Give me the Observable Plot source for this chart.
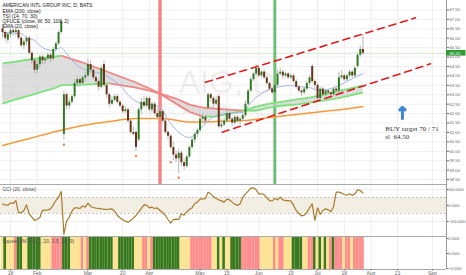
<!DOCTYPE html>
<html><head><meta charset="utf-8">
<script src="https://cdn.jsdelivr.net/npm/d3@7"></script>
<script src="https://cdn.jsdelivr.net/npm/@observablehq/plot@0.6"></script>
<style>
html,body{margin:0;padding:0;background:#fff;overflow:hidden;}
#chart svg{display:block;}
</style></head><body><div id="chart"></div>
<script>
// ---- candles (bar index 0..135, daily) ----
const opens = [66.5,66.3,65.9,66.2,66.4,66.3,66.4,66.0,65.6,65.8,
66.0,65.2,64.8,64.3,64.6,65.0,64.8,64.9,65.1,64.9,
65.4,65.7,66.3,60.9,63.0,62.4,62.6,62.9,63.6,63.8,
63.6,63.9,64.0,64.6,64.3,63.9,63.7,63.4,64.6,63.5,
63.0,62.5,62.7,62.9,62.6,62.4,62.1,62.2,61.6,61.0,
61.0,60.6,62.2,62.6,62.4,62.8,62.2,62.5,62.0,61.8,
62.1,61.6,61.0,60.8,60.2,59.8,59.6,59.9,59.4,59.2,
59.7,60.2,60.6,60.9,61.1,61.7,61.8,62.3,63.0,62.8,
62.5,62.9,61.3,61.4,61.6,62.0,61.7,61.5,61.8,61.6,
61.7,61.9,62.5,63.2,63.8,64.1,64.4,64.0,64.2,63.9,
63.6,63.3,63.1,63.5,64.1,64.2,64.0,64.1,63.9,64.0,
63.7,63.4,63.2,63.1,63.3,63.6,64.5,63.7,63.5,62.8,
63.3,63.0,63.2,63.1,63.0,63.3,63.2,63.9,64.0,63.8,
64.0,64.2,64.0,64.5,65.1,65.4];
const highs = [66.7,66.4,66.3,66.5,66.6,66.5,66.5,66.1,65.9,66.1,
66.1,65.3,64.9,64.8,65.1,65.1,65.0,65.2,65.2,65.5,
65.8,66.4,67.0,63.2,63.1,62.8,63.0,63.8,64.0,63.9,
64.0,64.2,64.9,64.8,64.4,64.0,63.8,64.5,64.8,63.6,
63.1,62.9,63.0,63.0,62.7,62.5,62.4,62.3,61.7,61.3,
61.1,62.3,62.8,62.9,62.9,62.9,62.6,62.6,62.2,62.2,
62.2,61.7,61.1,60.9,60.5,60.0,60.1,60.0,59.6,59.8,
60.3,60.7,61.0,61.2,61.8,62.0,61.9,63.1,63.1,62.9,
62.9,63.0,61.7,61.8,62.2,62.1,61.8,61.9,61.9,61.8,
62.0,62.7,63.3,63.9,64.2,64.6,64.5,64.3,64.3,64.0,
63.7,63.4,63.6,64.3,64.4,64.3,64.2,64.2,64.1,64.1,
63.8,63.5,63.3,63.4,63.7,64.0,64.6,63.8,63.6,63.4,
63.4,63.3,63.3,63.2,63.4,63.4,64.2,64.3,64.1,64.1,
64.3,64.3,64.5,65.2,65.6,66.2];
const lows = [66.0,65.8,65.7,66.0,66.1,66.1,65.9,65.5,65.4,65.6,
65.1,64.6,64.1,64.1,64.4,64.6,64.6,64.8,64.7,64.8,
65.3,65.6,66.2,60.6,62.2,62.2,62.5,62.8,63.4,63.4,
63.5,63.7,63.9,64.1,63.8,63.5,63.2,63.3,63.4,62.8,
62.3,62.4,62.6,62.5,62.3,62.0,62.0,61.5,60.9,60.8,
60.0,60.5,62.0,62.3,62.3,62.1,62.0,61.9,61.7,61.7,
61.5,60.9,60.6,60.1,59.5,59.4,58.8,59.2,59.0,59.1,
59.6,60.1,60.4,60.7,61.0,61.5,61.4,62.2,62.6,62.3,
62.4,61.2,61.2,61.3,61.5,61.6,61.3,61.4,61.5,61.4,
61.6,61.8,62.4,63.1,63.7,64.0,63.9,63.9,63.8,63.5,
63.2,63.0,63.0,63.4,64.0,63.8,63.9,63.8,63.8,63.6,
63.3,63.1,62.9,63.0,63.2,63.5,63.6,63.3,62.6,62.7,
62.9,62.9,63.0,62.9,62.9,63.1,63.1,63.8,63.7,63.7,
63.9,63.9,63.9,64.4,65.0,65.1];
const closes = [66.3,66.0,66.2,66.4,66.3,66.4,66.0,65.6,65.8,66.0,
65.2,64.8,64.3,64.6,65.0,64.8,64.9,65.1,64.9,65.4,
65.7,66.3,66.9,63.0,62.4,62.6,62.9,63.6,63.8,63.6,
63.9,64.0,64.6,64.3,63.9,63.7,63.4,64.4,63.5,63.0,
62.5,62.7,62.9,62.6,62.4,62.1,62.2,61.6,61.0,60.9,
60.2,62.2,62.6,62.4,62.8,62.2,62.5,62.0,61.8,62.1,
61.6,61.0,60.8,60.2,59.8,59.6,59.9,59.4,59.2,59.7,
60.2,60.6,60.9,61.1,61.7,61.8,61.6,63.0,62.8,62.5,
62.7,61.3,61.4,61.6,62.0,61.7,61.5,61.8,61.6,61.7,
61.9,62.5,63.2,63.8,64.1,64.4,64.0,64.2,63.9,63.6,
63.3,63.1,63.5,64.1,64.2,64.0,64.1,63.9,64.0,63.7,
63.4,63.2,63.1,63.3,63.6,63.9,63.7,63.5,62.8,63.3,
63.0,63.2,63.1,63.0,63.3,63.2,63.9,64.0,63.8,64.0,
64.2,64.0,64.4,65.1,65.4,65.2];

// ---- overlays (values read at bar indexes) ----
const cloudIdx = [0,5,10,15,20,22,30,40,50,55,59,65,70,75,80,85,90,95,100,105,110,115,120,125,130,135];
const cloudA = [64.66,64.76,64.87,64.95,65.03,65.08,64.71,64.18,63.65,63.33,63.06,62.53,62.1,61.84,61.84,62.0,62.16,62.37,62.53,62.64,62.75,62.85,63.0,63.17,63.33,63.49];
const cloudB = [62.53,62.75,62.96,63.17,63.38,63.51,63.54,63.6,63.38,63.22,63.06,62.8,62.48,62.32,62.27,62.21,62.16,62.16,62.32,62.43,62.48,62.59,62.69,62.8,62.96,63.12];
const emaLongIdx = [0,10,20,30,40,50,60,70,80,90,100,110,120,130,135];
const emaLong = [60.31,60.68,61.05,61.37,61.58,61.74,61.74,61.55,61.58,61.63,61.79,61.95,62.11,62.27,62.37];
const emaShortIdx = [0,7,9,12,15,19,22,24,28,32,37,40,44,48,52,57,59,63,70,74,78,84,90,93,97,101,108,112,115,119,126,131,135];
const emaShort = [66.3,66.25,66.03,65.88,65.5,65.34,65.5,65.19,64.55,64.28,64.12,63.91,63.49,62.85,62.53,62.43,62.32,61.47,60.73,61.2,61.74,62.0,62.06,62.59,63.06,63.33,63.49,63.42,63.38,63.22,63.49,63.86,64.12];
const lowMarkIdx = [23,50,63,66];
const lowMarkPrice = [60.35,59.75,59.42,58.6];
const crossIdx = [59,102];
const crossPrice = [63.06,62.55];
const redSignal = 59, greenSignal = 102;
const channelUpperIdx = [76,154.7], channelUpperPrice = [63.66,67.08];
const channelLowerIdx = [82.3,160.3], channelLowerPrice = [61.01,64.64];

// ---- CCI (20, close), per bar ----
const cci = [17,8,4,33,25,62,-88,-88,-62,8,
-104,-146,-187,-171,-150,-62,-58,-54,-42,8,
62,104,175,-362,-196,-146,-71,-29,-29,-37,
-4,-21,29,-12,-25,-33,-37,-42,-46,-50,
-46,-42,-71,-125,-154,-179,-196,-208,-187,-158,
-125,-83,-37,8,4,-29,-21,-37,-29,-62,
-88,-125,-175,-221,-175,-171,-175,-104,-121,-79,
-50,-29,25,42,79,83,87,167,146,108,
87,71,58,42,79,71,42,17,0,21,
104,146,179,217,221,196,146,146,137,96,
62,58,87,71,104,71,62,62,54,4,
-62,-100,-129,-121,-88,-29,21,-187,-29,-112,
-62,-42,-54,-79,-12,167,167,154,137,129,
146,125,146,196,187,154];

// ---- squeeze state per bar: G = green, Y = yellow, P = pink ----
const squeezeState = ("YGYYYPGGYY"+"GGGGGYYYYP"+"PPPGGGYYYY"+"PYPGGGGGGG"+"GGYYGGGGGG"+
"YYYPPYPGGG"+"GGGGGGGYYY"+"YPPPPPPPPY"+"YGYGYYGGGG"+"PPPPPPPYYY"+
"YYPYPPYYYG"+"GGGYYPPGYG"+"YGYPGPPPYP"+"PYPPPP").split("");

// ---- axes / texts ----
const tickIdx = [3,13,32,45,55,74,84,96,108,118,128,138,148,161];
const tickLabels = ["18","Feb","Mar","20","Apr","May","15","Jun","19","Jul","18","Aug","21","Sep"];
const priceTicks = [58.5,59,59.5,60,60.5,61,61.5,62,62.5,63,63.5,64,64.5,65,65.5,66,66.5,67,67.5];
const cciTicks = [200,0,-200];
const sqzTicks = [0.5,0,-0.5];
const legendLines = ["AMERICAN INTL GROUP INC, D, BATS","EMA (200, close)","TSI (14, 70, 30)","QFUCE (close, W, 50, 100, 2)","EMA (20, close)"];
const watermark = [{i:84, p:63.65, t:"AIG, D", size:32},{i:82.4, p:62.1, t:"AMERICAN INTL GROUP INC", size:14}];
const note = {i:143.4, p:61.35, t:"BUY target 70 / 71\nsl  64.50"};
const arrowPos = {i:149.8, from:61.74, to:62.34};

// ---------------------------------------------------------
const W = 466, XMIN = -0.75, XMAX = 166.3;
const font = "'Liberation Sans', Arial, sans-serif";
const xOpt = {domain:[XMIN, XMAX], axis:null};
const lastClose = closes[closes.length-1];
const bars = opens.map((o,i)=>({i, o, h:highs[i], l:lows[i], c:closes[i]}));
const knots = cloudIdx.map((i,k)=>({i, a:cloudA[k], b:cloudB[k]}));
function segs(key){
  const s=[];
  for(let k=0;k<knots.length-1;k++){
    const p=knots[k], q=knots[k+1];
    s.push({x1:p.i, y1:p[key], x2:q.i, y2:q[key], col: q[key]>=p[key] ? "#7be27b" : "#f28484"});
  }
  return s;
}
const pts = (idx, vals) => idx.map((i,k)=>({i, v:vals[k]}));
const labelMap = new Map(tickIdx.map((d,k)=>[d, tickLabels[k]]));

const main = Plot.plot({
  width:W, height:184, marginLeft:0, marginRight:20, marginTop:0, marginBottom:0,
  x:xOpt, y:{domain:[58.24, 68.0]}, color:{type:"identity"},
  style:{fontFamily:font, background:"#fff"},
  marks:[
    Plot.ruleY(priceTicks, {stroke:"#f0f0f0"}),
    Plot.ruleX(tickIdx, {stroke:"#eeeeee"}),
    Plot.ruleY([lastClose], {stroke:"#cfe8cf"}),
    Plot.text(watermark, {x:"i", y:"p", text:"t", fontSize:"size", fill:"#000", fillOpacity:0.08}),
    Plot.ruleX([redSignal], {stroke:"#f07a7a", strokeWidth:3.5, strokeOpacity:0.9}),
    Plot.ruleX([greenSignal], {stroke:"#66b866", strokeWidth:3, strokeOpacity:0.9}),
    Plot.areaY(knots, {x:"i", y1:"a", y2:"b", fill:"#c8c8c8", fillOpacity:0.6}),
    Plot.link(segs("a"), {x1:"x1", y1:"y1", x2:"x2", y2:"y2", stroke:"col", strokeWidth:1.8}),
    Plot.link(segs("b"), {x1:"x1", y1:"y1", x2:"x2", y2:"y2", stroke:"col", strokeWidth:1.8}),
    Plot.line(pts(emaLongIdx, emaLong), {x:"i", y:"v", stroke:"#f5993c", strokeWidth:1.5, curve:"monotone-x"}),
    Plot.line(pts(emaShortIdx, emaShort), {x:"i", y:"v", stroke:"#a3b2ea", strokeWidth:1, curve:"monotone-x"}),
    Plot.ruleX(bars, {x:"i", y1:"l", y2:"h", stroke:"#a9a9a9", strokeWidth:0.8}),
    Plot.ruleX(bars, {x:"i", y1:"o", y2:"c", stroke:d=>d.c>=d.o ? "#2f7a22" : "#6a3317", strokeWidth:2}),
    Plot.dot(pts(lowMarkIdx, lowMarkPrice), {x:"i", y:"v", r:1.1, fill:"#f2682a", stroke:"none"}),
    Plot.dot(pts(crossIdx, crossPrice), {x:"i", y:"v", symbol:"plus", r:2, fill:"#333", stroke:"none"}),
    Plot.line(pts(channelUpperIdx, channelUpperPrice), {x:"i", y:"v", stroke:"#e01b1b", strokeWidth:1.6, strokeDasharray:"7,5"}),
    Plot.line(pts(channelLowerIdx, channelLowerPrice), {x:"i", y:"v", stroke:"#e01b1b", strokeWidth:1.6, strokeDasharray:"7,5"}),
    Plot.arrow([arrowPos], {x1:"i", y1:"from", x2:"i", y2:"to", stroke:"#3f86d6", strokeWidth:3, headLength:7, headAngle:90}),
    Plot.text([note], {x:"i", y:"p", text:"t", textAnchor:"start", lineAnchor:"top", fontSize:7, lineHeight:1.1, fill:"#333", fontFamily:"'Liberation Serif', 'Times New Roman', serif"}),
    Plot.text([legendLines.join("\n")], {text:d=>d, frameAnchor:"top-left", textAnchor:"start", lineAnchor:"top", dx:2, dy:3, fontSize:5, lineHeight:1.06, fill:"#222"}),
    Plot.ruleX([XMAX], {stroke:"#999"}),
    Plot.axisY(priceTicks, {anchor:"right", tickFormat:d3.format(".2f"), fontSize:4.2, tickSize:2, tickPadding:1, color:"#666", label:null}),
    Plot.rect([lastClose], {x1:XMAX, x2:XMAX+7.3, y1:d=>d-0.15, y2:d=>d+0.15, fill:"#2e9b35"}),
    Plot.text([lastClose], {x:XMAX, y:d=>d, text:d=>d.toFixed(2), dx:3, textAnchor:"start", fontSize:4.2, fill:"#fff"})
  ]
});

const cciPlot = Plot.plot({
  width:W, height:52, marginLeft:0, marginRight:20, marginTop:0, marginBottom:0,
  x:xOpt, y:{domain:[-387.5, 262.5]},
  style:{fontFamily:font, background:"#fff"},
  marks:[
    Plot.ruleX(tickIdx, {stroke:"#eeeeee"}),
    Plot.ruleY([200,-200], {stroke:"#f0f0f0"}),
    Plot.rect([{}], {x1:XMIN, x2:XMAX, y1:-100, y2:100, fill:"#f3eee3"}),
    Plot.ruleY([100,-100], {stroke:"#bbb", strokeDasharray:"2,2", strokeWidth:0.8}),
    Plot.lineY(cci, {x:(d,k)=>k, y:d=>d, stroke:"#a67b2c", strokeWidth:1.2}),
    Plot.text(["CCI (20, close)"], {text:d=>d, frameAnchor:"top-left", textAnchor:"start", lineAnchor:"top", dx:2, dy:3, fontSize:5, fill:"#444"}),
    Plot.ruleY([262.5], {stroke:"#aaa"}),
    Plot.ruleX([XMAX], {stroke:"#999"}),
    Plot.axisY(cciTicks, {anchor:"right", tickFormat:d3.format(".4f"), fontSize:3.6, tickSize:1.5, tickPadding:0.5, color:"#666", label:null})
  ]
});

const sqzColor = {G:"#3a7a1e", Y:"#fde290", P:"#ff8b8b"};
const sqzData = squeezeState.map((s,i)=>({i, s}));
const sqzPlot = Plot.plot({
  width:W, height:39, marginLeft:0, marginRight:20, marginTop:0, marginBottom:6,
  x:xOpt, y:{domain:[-0.533, 0.567]}, color:{type:"identity"},
  style:{fontFamily:font, background:"#fff"},
  marks:[
    Plot.ruleX(tickIdx, {stroke:"#eeeeee"}),
    Plot.rect(sqzData, {x1:d=>d.i-0.5, x2:d=>d.i+0.5, y1:-0.533, y2:0.567, fill:d=>sqzColor[d.s]}),
    Plot.text(["SqueezeM (20, 2, 20, 1.5, 26, 9)"], {text:d=>d, frameAnchor:"top-left", textAnchor:"start", lineAnchor:"top", dx:2, dy:3, fontSize:5, fill:"#555"}),
    Plot.ruleY([0.567], {stroke:"#aaa"}),
    Plot.ruleY([-0.533], {stroke:"#aaa"}),
    Plot.ruleX([XMAX], {stroke:"#999"}),
    Plot.axisY(sqzTicks, {anchor:"right", tickFormat:d3.format(".4f"), fontSize:3.6, tickSize:1.5, tickPadding:0.5, color:"#666", label:null}),
    Plot.axisX(tickIdx, {tickFormat:d=>labelMap.get(d), fontSize:5, tickSize:1.5, tickPadding:0.5, color:"#666", label:null})
  ]
});

document.getElementById("chart").append(main, cciPlot, sqzPlot);
</script></body></html>
